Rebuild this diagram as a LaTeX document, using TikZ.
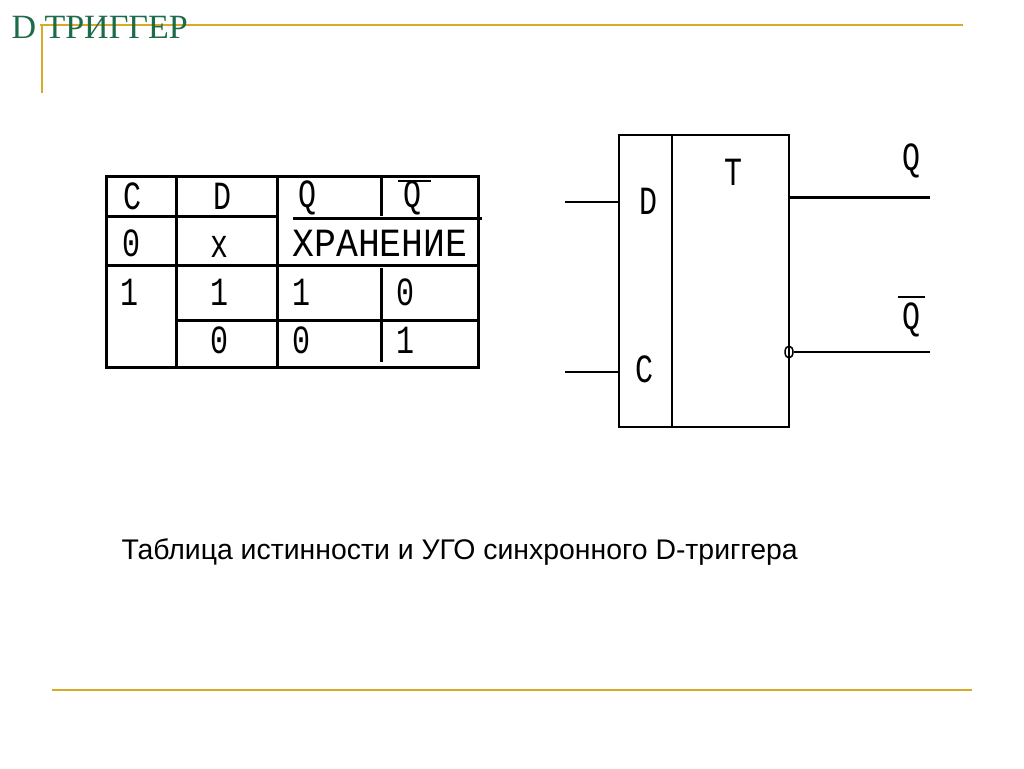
\documentclass[tikz,border=0pt]{standalone}
\usepackage{fontspec}
\setmainfont{Liberation Serif}
\newfontfamily\capfont{Liberation Sans}
\newfontfamily\cellfont[FakeStretch=0.75]{Liberation Mono}
\usetikzlibrary{positioning,shapes.geometric}
\definecolor{rulegold}{HTML}{D9A928}
\definecolor{titlegreen}{HTML}{1E6B4A}

\begin{document}
\begin{tikzpicture}[x=1pt,y=-1pt,line width=3pt]

  \tikzset{cell/.style={font=\cellfont\fontsize{40}{40}\selectfont,inner sep=0pt},
           pin/.style={line width=2pt},
           rule/.style={rulegold,line width=1.8pt}}

  \useasboundingbox (0,0) rectangle (1024,768);

  % slide decoration
  \draw[rule] (40,25) -- (963,25);
  \draw[rule] (42,25) -- (42,93);
  \draw[rule] (52,690) -- (972,690);
  \node[anchor=west,inner sep=0pt,text=titlegreen,font=\fontsize{34}{34}\selectfont] (title) at (10,27) {D ТРИГГЕР};

  % truth table
  \draw (106,176) rectangle (478,367);
  \draw (106,216) -- (277,216) (293,218) -- (482,218);
  \draw (106,265) -- (478,265);
  \draw (176,320) -- (478,320);
  \draw (106,367) -- (478,367);
  \draw (176,176) -- (176,367);
  \draw (277,176) -- (277,367);
  \draw (381,176) -- (381,216) (381,268) -- (381,362);

  \node[cell] (hc)  at (132,196) {C};
  \node[cell] (hd)  at (222,196) {D};
  \node[cell] (hq)  at (307,198) {Q};
  \node[cell] (hnq) at (412,198) {Q};
  \draw[line width=2pt] (398,181) -- (431,181);
  \node[cell] (c0)  at (131,243) {0};
  \node[cell] (dx)  at (219,247) {x};
  \node[cell,anchor=west,font=\cellfont\fontsize{40}{40}\selectfont\addfontfeature{FakeStretch=0.91}] (keep) at (291,243) {ХРАНЕНИЕ};
  \node[cell] (c1)  at (129,292) {1};
  \node[cell] (d1)  at (219,292) {1};
  \node[cell] (q1)  at (301,292) {1};
  \node[cell] (nq0) at (405,292) {0};
  \node[cell] (d0)  at (219,340) {0};
  \node[cell] (q0)  at (301,340) {0};
  \node[cell] (nq1) at (405,340) {1};

  % flip-flop symbol
  \node[draw,line width=2pt,minimum width=170pt,minimum height=292pt,inner sep=0pt] (ff) at (704,281) {};
  \draw[pin] (672,135) -- (672,427);
  \node[cell] (ind) at (648,201) {D};
  \node[cell] (inc) at (644,369) {C};
  \node[cell] (lt)  at (733,172) {T};
  \node[cell] (oq)  at (911,161) {Q};
  \node[cell] (onq) at (911,320) {Q};
  \draw[pin] (898,297) -- (925,297);
  \coordinate (dend) at (565,202);
  \coordinate (cend) at (565,372);
  \coordinate (qend) at (930,197);
  \coordinate (nqend) at (930,352);
  \draw[pin] (dend) -- (ff.west |- dend);
  \draw[pin] (cend) -- (ff.west |- cend);
  \draw[pin,line width=3pt] (ff.east |- qend) -- (qend);
  \node[draw,ellipse,line width=1.5pt,minimum width=8pt,minimum height=12pt,inner sep=0pt] (inv) at (789,352) {};
  \draw[pin] (inv.east) -- (nqend);

  % caption
  \node[anchor=west,inner sep=0pt,font=\capfont\fontsize{28.4}{28.4}\selectfont] (cap) at (120,552)
    {Таблица истинности и УГО синхронного D-триггера};
\end{tikzpicture}
\end{document}
